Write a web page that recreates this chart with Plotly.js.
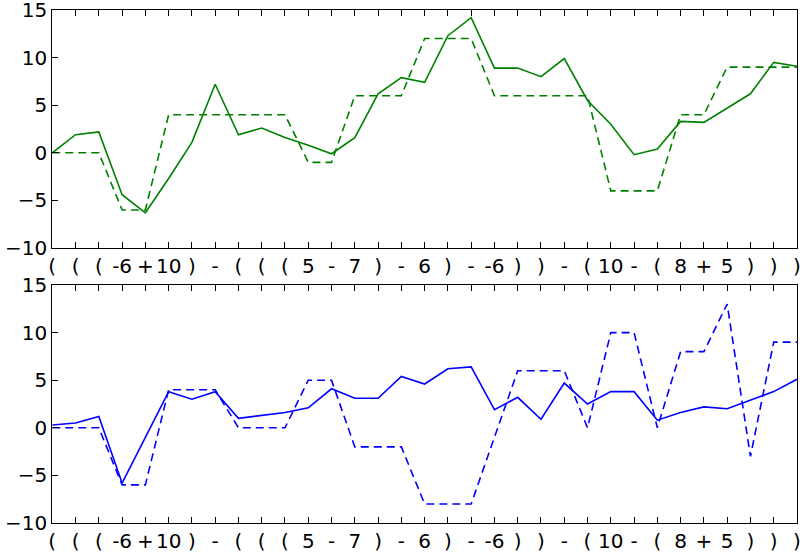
<!DOCTYPE html>
<html>
<head>
<meta charset="utf-8">
<script src="https://cdn.plot.ly/plotly-3.0.1.min.js"></script>
<style>
  body { margin: 0; background: #fff; }
  #plot { width: 803px; height: 552px; }
</style>
</head>
<body>
<div id="plot"></div>
<script>
var tokens = ['(', '(', '(', '-6', '+', '10', ')', '-', '(', '(', '(', '5', '-', '7', ')', '-', '6', ')',
              '-', '-6', ')', ')', '-', '(', '10', '-', '(', '8', '+', '5', ')', ')', ')'];

var topSolid = [0, 1.9, 2.2, -4.4, -6.3, -2.7, 1.1, 7.2, 1.9, 2.6, 1.6, 0.8, -0.1, 1.6, 6.2, 7.9,
                7.4, 12.3, 14.2, 8.9, 8.9, 8.0, 9.9, 5.5, 3.0, -0.2, 0.4, 3.3, 3.2, 4.7, 6.2, 9.5, 9.1];
var topDashed = [0, 0, 0, -6, -6, 4, 4, 4, 4, 4, 4, -1, -1, 6, 6, 6,
                 12, 12, 12, 6, 6, 6, 6, 6, -4, -4, -4, 4, 4, 9, 9, 9, 9];

var botSolid = [0.3, 0.5, 1.2, -5.8, -1.0, 3.8, 3.0, 3.8, 1.0, 1.3, 1.6, 2.1, 4.1, 3.1, 3.1, 5.4,
                4.6, 6.2, 6.4, 1.9, 3.2, 0.9, 4.7, 2.5, 3.8, 3.8, 0.8, 1.6, 2.2, 2.0, 2.9, 3.8, 5.1];
var botDashed = [0, 0, 0, -6, -6, 4, 4, 4, 0, 0, 0, 5, 5, -2, -2, -2,
                 -8, -8, -8, -1, 6, 6, 6, 0, 10, 10, 0, 8, 8, 13, -3, 9, 9];

var idx = tokens.map(function(t, i) { return i; });

function line(y, color, dashed, xa, ya) {
    return {
        x: idx, y: y, xaxis: xa, yaxis: ya,
        mode: 'lines', type: 'scatter', hoverinfo: 'none',
        line: { color: color, width: 1.6, dash: dashed ? '8px,5px' : 'solid' }
    };
}

var traces = [
    line(topSolid, '#008000', false, 'x', 'y'),
    line(topDashed, '#008000', true, 'x', 'y'),
    line(botSolid, '#0000ff', false, 'x2', 'y2'),
    line(botDashed, '#0000ff', true, 'x2', 'y2')
];

var font = { family: 'DejaVu Sans', size: 20, color: '#000' };

function xax(anchor, dom) {
    return {
        domain: dom, anchor: anchor, range: [0, 32],
        tickmode: 'array', tickvals: idx, ticktext: tokens,
        ticks: 'inside', ticklen: 6, tickcolor: '#000', tickwidth: 1,
        showline: true, linecolor: '#000', linewidth: 1, mirror: 'ticks',
        showgrid: false, zeroline: false, tickfont: font, tickangle: 0,
        ticklabeloverflow: 'allow'
    };
}
function yax(anchor, dom) {
    return {
        domain: dom, anchor: anchor, range: [-10, 15],
        tickvals: [-10, -5, 0, 5, 10, 15], ticktext: ['\u221210', '\u22125', '0', '5', '10', '15'],
        ticks: 'inside', ticklen: 6, tickcolor: '#000', tickwidth: 1,
        showline: true, linecolor: '#000', linewidth: 1, mirror: true,
        showgrid: false, zeroline: false, tickfont: font,
        ticklabeloverflow: 'allow'
    };
}

var layout = {
    width: 803, height: 552,
    margin: { l: 0, r: 0, t: 8, b: 0 },
    showlegend: false,
    paper_bgcolor: '#fff', plot_bgcolor: '#fff',
    xaxis: xax('y', [0.0651, 0.9925]),
    yaxis: yax('x', [0.5588, 0.9963]),
    xaxis2: xax('y2', [0.0651, 0.9925]),
    yaxis2: yax('x2', [0.0533, 0.4908])
};

Plotly.newPlot('plot', traces, layout, { staticPlot: true });
</script>
</body>
</html>
